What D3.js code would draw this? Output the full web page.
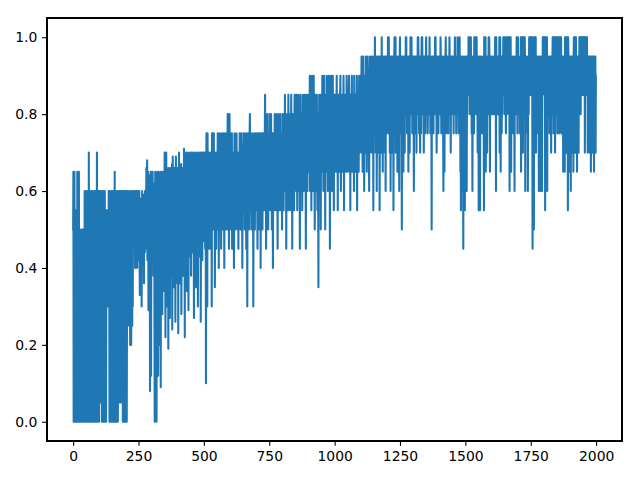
<!DOCTYPE html>
<html><head><meta charset="utf-8">
<script src="https://cdn.jsdelivr.net/npm/d3@7"></script>
<style>body{margin:0;background:#fff}svg{display:block}</style>
</head><body><svg id="c" width="640" height="480"></svg>
<script>
// tick labels
const xTicks = [0, 250, 500, 750, 1000, 1250, 1500, 1750, 2000];
const yTicks = [0.0, 0.2, 0.4, 0.6, 0.8, 1.0];
// series values in percent, steps 0..499, 500..999, 1000..1499, 1500..1999
const seriesA = [
50,65,0,60,0,65,35,0,55,0,45,55,0,10,50,0,65,0,40,60,0,0,65,20,0,50,0,45,5,0,50,30,0,0,45,50,0,15,50,0,0,40,50,0,60,0,55,0,35,60,
0,55,0,60,5,0,50,0,60,0,70,0,25,55,0,60,0,0,45,60,0,55,10,0,60,0,50,0,55,0,30,60,0,0,55,0,60,20,0,45,0,70,0,60,0,15,55,0,60,0,
60,5,55,10,60,5,45,60,5,50,0,60,0,55,0,35,60,0,0,50,0,60,0,55,0,50,0,40,30,55,35,50,30,45,55,30,60,35,50,0,60,0,55,0,0,60,10,0,55,0,
60,0,55,0,60,0,0,50,0,65,0,45,0,60,5,0,55,0,60,0,35,0,55,60,10,5,60,15,55,5,60,20,5,50,10,60,5,55,25,60,0,55,0,60,0,0,60,0,55,0,
60,0,55,0,60,0,30,55,25,60,35,50,30,55,40,25,60,45,20,55,30,50,20,60,35,45,25,55,30,60,50,45,55,60,45,50,55,40,60,50,45,55,60,50,45,40,55,60,45,50,
55,42,50,60,47,33,56,44,58,48,52,57,30,49,60,45,55,41,53,59,47,36,57,51,44,60,46,55,48,53,66,45,58,68,42,60,50,65,29,56,52,64,45,60,8,57,47,65,12,52,
61,44,57,50,65,41,53,38,58,47,62,26,0,52,65,43,57,49,61,0,48,40,65,46,57,12,62,49,65,42,58,20,61,45,54,9,65,50,57,39,62,28,52,65,44,57,34,62,48,53,
70,47,58,22,62,50,70,44,55,30,66,46,58,63,19,53,66,45,50,63,27,57,66,47,54,38,62,50,67,24,58,69,44,62,49,57,35,66,53,47,63,26,57,69,50,43,62,54,66,36,
58,66,23,62,49,70,45,57,66,36,53,62,47,67,28,57,50,62,44,66,54,38,62,49,71,46,57,22,66,53,62,42,70,49,58,34,62,54,67,46,70,29,58,50,66,43,62,54,70,47,
66,38,57,70,50,62,44,70,54,47,66,58,27,62,50,70,44,57,66,50,35,62,54,70,47,58,66,30,54,62,50,70,43,66,58,47,62,70,26,54,66,50,58,70,42,62,54,66,47,70
];
const seriesB = [
60,70,50,65,55,45,70,60,10,65,75,55,70,30,75,60,50,65,70,55,45,65,60,70,50,55,65,45,60,70,30,75,60,70,75,55,65,50,75,60,50,70,35,60,65,55,70,45,60,65,
70,55,65,75,50,60,70,40,65,55,75,60,70,50,65,70,45,60,75,55,65,70,50,60,65,75,55,70,40,65,60,75,50,70,65,55,60,75,70,50,65,80,55,70,60,75,45,65,80,70,
55,75,60,65,50,70,60,75,45,65,70,55,60,70,65,40,60,75,55,70,65,50,70,60,65,75,55,70,60,50,65,70,45,65,60,70,55,75,65,60,50,70,65,75,55,60,70,40,65,70,
60,70,75,55,65,70,50,75,60,65,55,70,45,65,75,60,30,70,55,65,75,60,70,50,65,75,80,60,70,55,75,65,50,70,60,75,55,70,65,30,60,70,55,75,65,50,70,60,75,55,
65,75,55,70,60,45,70,65,75,55,60,70,50,75,65,60,70,40,65,75,55,70,60,75,50,65,70,60,75,55,70,65,60,75,85,55,70,65,45,75,60,70,80,55,65,75,50,70,60,75,
70,80,60,75,55,70,65,80,60,75,50,70,65,75,40,70,60,75,65,55,70,80,60,75,65,70,55,75,80,60,70,65,45,75,60,70,80,65,55,75,60,70,65,80,55,70,60,75,65,50,
75,60,80,65,70,55,75,80,65,70,85,60,75,65,80,45,70,75,60,80,65,70,55,85,75,65,80,60,70,75,55,80,70,65,85,60,75,70,45,80,65,75,60,80,70,55,75,85,65,70,
80,65,75,60,85,70,75,55,80,65,70,85,60,75,80,65,70,45,75,85,65,80,60,70,75,80,55,70,85,65,75,60,80,70,65,85,75,60,80,70,45,75,85,65,70,80,60,75,85,70,
75,85,65,80,70,90,60,75,85,65,80,55,75,90,70,80,65,85,60,75,90,70,80,65,50,75,85,70,60,80,75,65,85,70,55,80,75,65,35,80,70,85,60,75,65,85,70,50,80,75,
85,70,80,90,65,75,85,60,80,70,90,75,65,85,50,80,70,85,75,65,90,80,70,85,60,75,85,70,90,65,80,75,45,85,70,80,90,65,75,85,60,80,70,90,75,65,85,55,80,70
];
const seriesC = [
80,85,70,85,75,65,85,80,90,70,75,85,55,80,70,85,75,85,65,80,70,85,90,75,60,80,85,70,85,75,65,85,80,70,90,75,55,85,70,80,85,65,75,85,70,80,90,75,65,85,
75,85,80,70,85,90,65,80,75,85,55,85,75,80,70,85,90,65,80,75,85,70,85,80,60,90,75,85,70,80,85,65,85,75,80,90,55,85,75,70,85,80,65,85,90,75,80,70,90,85,
90,75,85,95,70,80,90,65,85,95,75,80,90,60,85,75,90,80,70,95,85,75,90,65,80,95,90,70,85,80,90,75,60,85,95,80,70,90,85,75,95,80,90,70,85,95,75,90,55,85,
95,80,90,75,100,85,95,70,90,80,95,60,85,95,75,90,80,95,70,85,95,90,55,80,95,85,75,90,95,70,100,85,80,95,65,90,85,95,75,90,80,95,70,85,95,60,90,80,95,75,
90,95,80,85,100,95,75,100,90,80,95,70,85,95,60,90,80,95,75,85,95,70,90,85,95,55,80,90,95,100,75,95,85,100,70,90,95,80,85,95,65,90,80,95,75,85,95,60,90,95,
100,85,95,75,90,95,80,50,90,95,85,75,95,65,90,80,95,85,70,95,90,80,100,95,100,85,90,75,95,80,90,95,65,85,95,80,90,70,95,85,100,90,95,80,100,85,95,75,90,95,
90,80,95,60,85,95,75,90,85,95,80,90,95,70,85,95,80,90,100,95,100,85,95,75,90,95,80,70,90,95,85,75,95,100,90,100,85,95,80,90,95,70,85,95,90,80,95,75,90,95,
100,85,95,80,90,95,75,85,95,90,80,95,85,100,90,95,75,90,85,95,80,50,90,95,85,80,95,90,75,95,85,90,95,80,100,95,100,85,90,95,70,85,95,90,80,95,85,75,90,95,
90,85,95,80,90,100,95,85,75,95,90,80,95,85,90,75,60,95,85,90,65,95,80,90,95,100,85,95,75,90,95,80,85,95,90,75,95,85,80,100,95,90,85,95,70,90,95,80,85,95,
90,80,95,85,90,75,95,85,80,95,100,85,90,80,95,75,90,95,85,90,100,95,80,90,75,85,95,90,100,85,95,65,90,55,85,95,80,90,60,95,85,90,45,80,95,70,90,85,55,95
];
const seriesD = [
90,85,95,75,90,60,85,95,80,90,95,85,100,90,100,95,85,100,80,95,90,100,85,95,75,90,85,60,95,80,90,85,95,75,100,90,95,100,85,95,100,80,95,100,90,95,85,70,90,95,
85,55,90,95,80,85,55,95,90,85,75,95,90,80,95,85,75,90,95,80,85,55,100,90,95,100,85,100,65,95,90,85,95,70,90,85,95,80,90,100,85,100,95,90,65,95,85,90,80,95,
90,80,95,85,90,80,95,85,90,80,95,90,85,95,100,90,100,60,100,85,95,80,90,95,85,80,90,95,85,90,100,70,95,100,90,65,95,85,90,75,95,90,80,95,85,100,90,100,95,85,
100,80,95,100,85,75,100,90,95,80,90,100,95,85,100,90,100,80,95,60,100,85,95,100,90,65,95,85,90,80,95,85,90,75,95,80,90,85,60,95,90,85,95,80,90,85,100,95,100,75,
95,100,85,90,80,95,85,90,75,95,85,90,100,65,100,95,100,80,100,95,70,100,90,100,95,100,85,100,95,60,90,85,95,80,90,85,95,75,90,60,85,95,80,90,100,95,100,85,100,95,
90,100,85,100,95,100,80,45,100,90,95,100,50,95,100,90,75,100,95,100,70,95,85,90,80,95,85,90,75,95,85,60,90,80,95,85,90,60,95,85,90,80,95,60,90,85,100,95,100,90,
100,95,100,85,100,55,95,100,90,100,75,95,100,60,95,90,85,95,80,90,85,95,75,90,85,95,80,90,70,95,85,90,80,95,100,90,100,75,95,100,85,100,95,70,100,90,100,95,80,100,
95,100,75,100,90,100,95,85,100,75,95,100,90,100,95,85,100,75,95,90,85,95,80,90,65,95,85,90,80,95,65,100,90,100,85,100,95,70,100,90,100,95,55,100,95,85,90,65,95,85,
90,80,95,60,90,85,95,70,90,85,95,80,90,65,95,100,90,100,85,100,70,100,95,100,90,85,95,65,90,85,95,80,90,70,95,85,100,95,100,85,100,80,100,95,100,90,100,85,100,95,
100,85,100,90,100,95,100,70,100,95,85,100,90,100,95,100,85,95,70,90,95,85,95,80,90,70,95,85,90,95,65,90,85,95,80,95,90,70,95,85,90,95,65,90,85,95,80,95,70,90
];
const values = seriesA.concat(seriesB, seriesC, seriesD).map(v => v / 100);
const n = values.length;

const svg = d3.select("#c");
const L = 47, R = 622, T = 18, B = 441;
const x = d3.scaleLinear().domain([-(n - 1) * 0.05, (n - 1) * 1.05]).range([L, R]);
const y = d3.scaleLinear().domain([-0.05, 1.05]).range([B, T]);

const defs = svg.append("defs");
defs.append("clipPath").attr("id", "clip").append("rect")
  .attr("x", L).attr("y", T).attr("width", R - L).attr("height", B - T);

svg.append("path")
  .datum(values)
  .attr("clip-path", "url(#clip)")
  .attr("fill", "none")
  .attr("stroke", "#1f77b4")
  .attr("stroke-width", 2.08)
  .attr("stroke-linejoin", "round")
  .attr("stroke-linecap", "square")
  .attr("d", d3.line().x((d, i) => x(i)).y(d => y(d)));

const font = "DejaVu Sans, sans-serif";
const xAxis = svg.append("g").attr("transform", `translate(0,${B})`)
  .call(d3.axisBottom(x).tickValues(xTicks).tickFormat(d3.format("d")).tickSize(4.86).tickPadding(4.86));
const yAxis = svg.append("g").attr("transform", `translate(${L},0)`)
  .call(d3.axisLeft(y).tickValues(yTicks).tickFormat(d3.format(".1f")).tickSize(4.86).tickPadding(4.86));
[xAxis, yAxis].forEach(g => {
  g.select(".domain").remove();
  g.selectAll(".tick line").attr("stroke", "#000").attr("stroke-width", 1.11);
  g.selectAll("text").attr("fill", "#000").style("font-family", font).style("font-size", "13.9px");
});

svg.append("rect").attr("x", L).attr("y", T).attr("width", R - L).attr("height", B - T)
  .attr("fill", "none").attr("stroke", "#000").attr("stroke-width", 1.11).attr("shape-rendering", "crispEdges");
</script></body></html>
